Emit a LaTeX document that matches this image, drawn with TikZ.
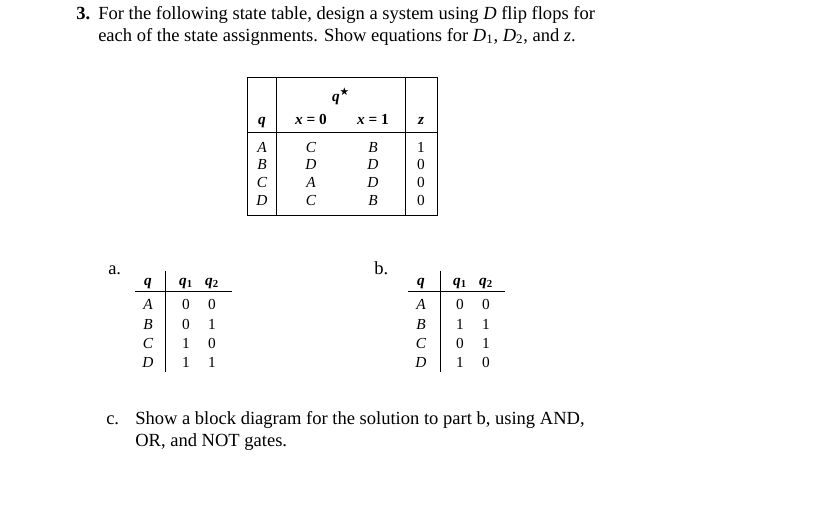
\documentclass[tikz,border=0pt]{standalone}
\usepackage{fontspec}
\setmainfont{Liberation Serif}
\newfontfamily\symfont{DejaVu Sans}
\newcommand{\bi}[1]{\textbf{\textit{#1}}}
\begin{document}
\begin{tikzpicture}[x=0.75pt,y=-0.75pt,
  txt/.style={anchor=base west,inner sep=0,font=\fontsize{13.9}{16}\selectfont},
  tb/.style={anchor=base,inner sep=0,font=\fontsize{11.5}{13}\selectfont},
  rl/.style={line width=0.6pt}]
\useasboundingbox (0,0) rectangle (824,504);
% problem statement
\node[txt] (n3) at (76,19) {\textbf{3.}};
\node[txt] (t1) at (98,19) {For the following state table, design a system using \textit{D} flip flops for};
\node[txt] (t2) at (98,41) {each of the state assignments. Show equations for \textit{D}\textsubscript{1}, \textit{D}\textsubscript{2}, and \textit{z}.};
% main table
\draw[rl] (247,77) rectangle (437,215);
\draw[rl] (276,77) -- (276,215);
\draw[rl] (405,77) -- (405,215);
\draw[rl] (247,132) -- (437,132);
\node[tb] (qs) at (341,101) {\bi{q}\textsuperscript{{\symfont ★}}};
\node[tb] (hq) at (262,124) {\bi{q}};
\node[tb] (hx0) at (311,124) {\bi{x} \textbf{= 0}};
\node[tb] (hx1) at (373,124) {\bi{x} \textbf{= 1}};
\node[tb] (hz) at (421,124) {\bi{z}};
\foreach \y/\a/\b/\c/\d [count=\i] in {152/A/C/B/1,169/B/D/D/0,187/C/A/D/0,205/D/C/B/0}{
  \node[tb] (m\i a) at (262,\y) {\textit{\a}};
  \node[tb] (m\i b) at (311,\y) {\textit{\b}};
  \node[tb] (m\i c) at (373,\y) {\textit{\c}};
  \node[tb] (m\i d) at (421,\y) {\d};
}
% part a
\node[txt] (la) at (108,274) {a.};
\draw[rl] (165,271) -- (165,372);
\draw[rl] (135,291) -- (232,291);
\node[tb] (aq) at (148,285) {\bi{q}};
\node[tb] (aq1) at (186,285) {\bi{q}\textsubscript{\textbf{1}}};
\node[tb] (aq2) at (212,285) {\bi{q}\textsubscript{\textbf{2}}};
\foreach \y/\a/\b/\c [count=\i] in {309/A/0/0,329/B/0/1,348/C/1/0,367/D/1/1}{
  \node[tb] (a\i a) at (148,\y) {\textit{\a}};
  \node[tb] (a\i b) at (186,\y) {\b};
  \node[tb] (a\i c) at (212,\y) {\c};
}
% part b
\node[txt] (lb) at (374,274) {b.};
\draw[rl] (440,271) -- (440,372);
\draw[rl] (408,291) -- (505,291);
\node[tb] (bq) at (421,285) {\bi{q}};
\node[tb] (bq1) at (460,285) {\bi{q}\textsubscript{\textbf{1}}};
\node[tb] (bq2) at (486,285) {\bi{q}\textsubscript{\textbf{2}}};
\foreach \y/\a/\b/\c [count=\i] in {309/A/0/0,329/B/1/1,348/C/0/1,367/D/1/0}{
  \node[tb] (b\i a) at (421,\y) {\textit{\a}};
  \node[tb] (b\i b) at (460,\y) {\b};
  \node[tb] (b\i c) at (486,\y) {\c};
}
% part c
\node[txt] (lc) at (106,424) {c.};
\node[txt] (c1) at (135,424) {Show a block diagram for the solution to part b, using AND,};
\node[txt] (c2) at (135,446) {OR, and NOT gates.};
\end{tikzpicture}
\end{document}
